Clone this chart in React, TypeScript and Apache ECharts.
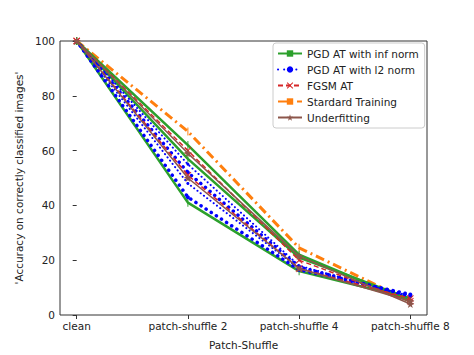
import React, { useEffect, useRef } from "react";
import * as echarts from "echarts";

const categories = ["clean", "patch-shuffle 2", "patch-shuffle 4", "patch-shuffle 8"];
const xPositions = [0, 1, 2, 3];
const yTicks = [0, 20, 40, 60, 80, 100];

// PGD AT with inf norm
const pgdInfA = [100, 41, 16, 6];
const pgdInfB = [100, 62, 22, 5];
const pgdInfC = [100, 57, 21, 6];
// PGD AT with l2 norm
const pgdL2A = [100, 43, 16.5, 7.5];
const pgdL2B = [100, 52, 17.5, 7];
const pgdL2C = [100, 55, 18, 6.5];
const pgdL2D = [100, 48, 17, 7];
// FGSM AT
const fgsmA = [100, 60, 20, 5];
const fgsmB = [100, 51, 17, 6];
// Standard training
const standard = [100, 67, 24.5, 5];
// Underfitting
const underA = [100, 59, 21.5, 4];
const underB = [100, 50, 17, 5];

const FONT = "DejaVu Sans";
const X_PATH = "path://M0,1 L1,0 L5,4 L9,0 L10,1 L6,5 L10,9 L9,10 L5,6 L1,10 L0,9 L4,5 Z";
const STAR_PATH = "path://M5,0 L6.2,3.6 L10,3.6 L6.9,5.9 L8.1,9.5 L5,7.3 L1.9,9.5 L3.1,5.9 L0,3.6 L3.8,3.6 Z";
const BAR_PATH = "path://M4.4,0 L5.6,0 L5.6,10 L4.4,10 Z";

const toData = (vals: number[]) => vals.map((v, i) => [xPositions[i], v]);

export default function App() {
  const ref = useRef<HTMLDivElement>(null);
  useEffect(() => {
    if (!ref.current) return;
    const chart = echarts.init(ref.current, null, { renderer: "svg" });
    const green = "#2ca02c";
    const blue = "#0000ff";
    const red = "#d62728";
    const orange = "#ff7f0e";
    const brown = "#8c564b";
    const mk = (name: string, vals: number[], color: string, extra: any) => ({
      type: "line",
      name,
      data: toData(vals),
      showSymbol: true,
      ...extra,
      itemStyle: { color, ...(extra.itemStyle || {}) },
      lineStyle: { color, ...(extra.lineStyle || {}) },
      emphasis: { disabled: true },
    });
    const greenOpt = { symbol: BAR_PATH, symbolSize: 8, symbolKeepAspect: true, lineStyle: { width: 2.5 }, z: 3 };
    const blueBig = { symbol: "circle", symbolSize: 4, lineStyle: { width: 3.5, type: [0.1, 6], cap: "round" }, z: 4 };
    const blueSmall = { symbol: "circle", symbolSize: 3, lineStyle: { width: 2, type: [0.1, 4], cap: "round" }, z: 4 };
    const redOpt = { symbol: X_PATH, symbolSize: 7, lineStyle: { width: 1.5, type: [5, 3] }, z: 5 };
    const orangeOpt = { symbol: BAR_PATH, symbolSize: 8, symbolKeepAspect: true, lineStyle: { width: 3, type: [9, 4, 2, 4] }, z: 2 };
    const brownOpt = { symbol: STAR_PATH, symbolSize: 8, lineStyle: { width: 1.5 }, z: 6 };
    const names = [
      "PGD AT with inf norm",
      "PGD AT with l2 norm",
      "FGSM AT",
      "Stardard Training",
      "Underfitting",
    ];
    chart.setOption({
      animation: false,
      textStyle: { fontFamily: FONT },
      grid: {
        left: 60,
        right: 47,
        top: 41,
        bottom: 39,
        show: true,
        borderColor: "#333",
        borderWidth: 1,
        backgroundColor: "transparent",
      },
      legend: {
        data: names,
        orient: "vertical",
        left: 273,
        top: 43,
        padding: [5, 6, 5, 4],
        itemGap: 5,
        itemWidth: 24,
        itemHeight: 8,
        borderColor: "#cccccc",
        borderWidth: 1,
        borderRadius: 3,
        backgroundColor: "#fff",
        textStyle: { fontFamily: FONT, fontSize: 10.5, color: "#222" },
      },
      xAxis: {
        type: "value",
        min: -0.15,
        max: 3.15,
        name: "Patch-Shuffle",
        nameLocation: "middle",
        nameGap: 24,
        nameTextStyle: { fontFamily: FONT, fontSize: 10.5, color: "#222" },
        axisLine: { show: false },
        splitLine: { show: false },
        axisTick: { show: true, length: 4, customValues: xPositions, lineStyle: { color: "#333" } },
        axisLabel: {
          customValues: xPositions,
          formatter: (v: number) => categories[Math.round(v)] ?? "",
          fontFamily: FONT,
          fontSize: 10.5,
          color: "#222",
          margin: 5,
        },
      },
      yAxis: {
        type: "value",
        min: 0,
        max: 100,
        interval: 20,
        name: "'Accuracy on correctly classified images'",
        nameLocation: "middle",
        nameGap: 34,
        nameTextStyle: { fontFamily: FONT, fontSize: 10.5, color: "#222" },
        axisLine: { show: false },
        splitLine: { show: false },
        axisTick: { show: true, length: 4, lineStyle: { color: "#333" } },
        axisLabel: {
          fontFamily: FONT,
          fontSize: 10.5,
          color: "#222",
          margin: 5,
          formatter: (v: number) => (yTicks.includes(v) ? String(v) : ""),
        },
      },
      series: [
        mk(names[3], standard, orange, orangeOpt),
        mk(names[0], pgdInfA, green, greenOpt),
        mk(names[0], pgdInfB, green, greenOpt),
        mk(names[0], pgdInfC, green, greenOpt),
        mk(names[1], pgdL2A, blue, blueBig),
        mk(names[1], pgdL2B, blue, blueBig),
        mk(names[1], pgdL2C, blue, blueSmall),
        mk(names[1], pgdL2D, blue, blueSmall),
        mk(names[2], fgsmA, red, redOpt),
        mk(names[2], fgsmB, red, redOpt),
        mk(names[4], underA, brown, brownOpt),
        mk(names[4], underB, brown, brownOpt),
      ],
    });
    return () => chart.dispose();
  }, []);
  return <div ref={ref} style={{ width: 474, height: 355, position: "absolute", left: 0, top: 0 }} />;
}
